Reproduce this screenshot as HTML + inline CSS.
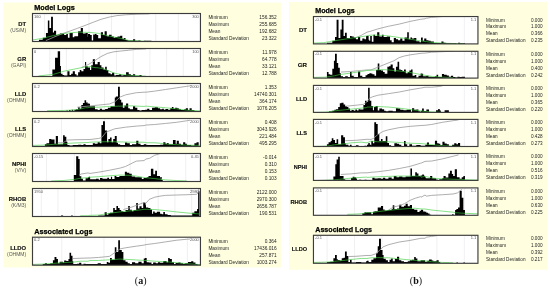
<!DOCTYPE html>
<html><head><meta charset="utf-8"><style>
html,body{margin:0;padding:0;background:#fff;width:550px;height:289px;overflow:hidden}
svg{display:block}
text{font-family:"Liberation Sans",Arial,sans-serif;fill:#111}
.h{font-weight:bold;fill:#000;stroke:#000;stroke-width:0.25px}
.b{font-weight:bold;fill:#111;stroke:#111;stroke-width:0.15px}
.u{fill:#555}
.s{fill:#222}
.m{font-size:4.0px;fill:#555}
.c{font-family:"Liberation Serif",serif;font-size:10px;fill:#111}
</style></head><body>
<svg width="550" height="289" viewBox="0 0 550 289">
<rect x="3.5" y="2.5" width="277.5" height="265" fill="#ffffe0"/>
<text x="34.2" y="10.3" class="h" style="font-size:7.3px">Model Logs</text>
<text x="34.2" y="233.6" class="h" style="font-size:7.3px">Associated Logs</text>
<clipPath id="cLDT"><rect x="32.5" y="13.5" width="167.95" height="28"/></clipPath>
<rect x="32.5" y="13.5" width="167.95" height="28" fill="#fff"/>
<g clip-path="url(#cLDT)">
<line x1="44.5" y1="13.5" x2="44.5" y2="41.5" stroke="#e9e9e9" stroke-width="0.7"/>
<line x1="67" y1="13.5" x2="67" y2="41.5" stroke="#e9e9e9" stroke-width="0.7"/>
<line x1="89" y1="13.5" x2="89" y2="41.5" stroke="#e9e9e9" stroke-width="0.7"/>
<line x1="111.5" y1="13.5" x2="111.5" y2="41.5" stroke="#e9e9e9" stroke-width="0.7"/>
<line x1="134" y1="13.5" x2="134" y2="41.5" stroke="#e9e9e9" stroke-width="0.7"/>
<line x1="155.8" y1="13.5" x2="155.8" y2="41.5" stroke="#e9e9e9" stroke-width="0.7"/>
<line x1="178.3" y1="13.5" x2="178.3" y2="41.5" stroke="#e9e9e9" stroke-width="0.7"/>
<path d="M38.97 41.5V39.67H42.72V41.5ZM42.72 41.5V37.74H45.94V41.5ZM45.94 41.5V32.92H47.87V41.5ZM47.87 41.5V20.58H49.37V41.5ZM49.37 41.5V28.09H51.08V41.5ZM51.08 41.5V16.83H52.91V41.5ZM52.91 41.5V32.38H53.98V41.5ZM53.98 41.5V30.77H56.12V41.5ZM56.12 41.5V35.06H57.73V41.5ZM57.73 41.5V34.53H59.87V41.5ZM59.87 41.5V33.45H64.16V41.5ZM64.16 41.5V35.06H66.31V41.5ZM66.31 41.5V33.99H67.91V41.5ZM67.91 41.5V37.74H69.52V41.5ZM69.52 41.5V32.92H72.74V41.5ZM72.74 41.5V37.21H74.35V41.5ZM74.35 41.5V36.13H78.1V41.5ZM78.1 41.5V31.31H80.78V41.5ZM80.78 41.5V27.88H82.92V41.5ZM82.92 41.5V33.45H85.6V41.5ZM85.6 41.5V32.92H87.75V41.5ZM87.75 41.5V36.67H90V41.5ZM88 41.5V33.99H90.14V41.5ZM90.14 41.5V35.06H91.75V41.5ZM91.75 41.5V40.53H93.15V41.5ZM93.15 41.5V34.53H94.97V41.5ZM94.97 41.5V33.99H96.58V41.5ZM96.58 41.5V35.06H98.18V41.5ZM98.18 41.5V38.28H100.87V41.5ZM100.87 41.5V32.17H103.01V41.5ZM103.01 41.5V35.06H104.62V41.5ZM104.62 41.5V31.31H106.76V41.5ZM106.76 41.5V36.13H108.91V41.5ZM108.91 41.5V34.74H111.59V41.5ZM111.59 41.5V36.46H113.73V41.5ZM113.73 41.5V37.74H115.34V41.5ZM115.34 41.5V36.89H117.48V41.5ZM117.48 41.5V36.46H120.16V41.5ZM120.16 41.5V35.81H122.31V41.5ZM122.31 41.5V38.82H123.91V41.5ZM123.91 41.5V37.96H125.52V41.5ZM125.52 41.5V40.1H127.67V41.5ZM127.67 41.5V40.53H133.03V41.5ZM133.03 41.5V39.35H135.17V41.5ZM135.17 41.5V40.75H138.39V41.5ZM138.39 41.5V40.43H140.53V41.5ZM140.53 41.5V41.07H146V41.5ZM144 41.5V40.75H151.5V41.5Z" fill="#000"/>
<polyline points="45.9,40.6 53,37.5 61.8,33.9 70,31 77.8,28.2 86,25.1 93.7,22.1 101,19.3 109.6,17 117,15.6 125.5,14.8 137,14.2 149.4,13.9" fill="none" stroke="#999" stroke-width="0.8"/>
<polyline points="32,40.1 42.72,38.28 53.44,35.6 64.16,33.45 78.1,32.17 88,32.38 90,32.38 98.72,33.45 109.44,36.13 120.16,38.28 128.74,40.43 136.24,40.96 146,41.18" fill="none" stroke="#3fcf3f" stroke-opacity="0.7" stroke-width="0.9"/>
</g>
<text x="34.1" y="17.6" class="m">160</text>
<text x="198.85" y="17.6" class="m" text-anchor="end">300</text>
<rect x="32.5" y="13.5" width="167.95" height="28" fill="none" stroke="#3c3c3c" stroke-width="1.15"/>
<text x="26.2" y="25.8" class="b" text-anchor="end" style="font-size:5.9px">DT</text>
<text x="26.2" y="32.1" class="u" text-anchor="end" style="font-size:5.0px">(US/M)</text>
<text x="208.4" y="18.8" class="s" style="font-size:4.78px">Minimum</text>
<text x="276.6" y="18.8" class="s" text-anchor="end" style="font-size:4.78px">156.352</text>
<text x="208.4" y="25.8" class="s" style="font-size:4.78px">Maximum</text>
<text x="276.6" y="25.8" class="s" text-anchor="end" style="font-size:4.78px">255.685</text>
<text x="208.4" y="32.8" class="s" style="font-size:4.78px">Mean</text>
<text x="276.6" y="32.8" class="s" text-anchor="end" style="font-size:4.78px">192.682</text>
<text x="208.4" y="39.8" class="s" style="font-size:4.78px">Standard Deviation</text>
<text x="276.6" y="39.8" class="s" text-anchor="end" style="font-size:4.78px">23.322</text>
<clipPath id="cLGR"><rect x="32.5" y="48.5" width="167.95" height="28"/></clipPath>
<rect x="32.5" y="48.5" width="167.95" height="28" fill="#fff"/>
<g clip-path="url(#cLGR)">
<line x1="49.7" y1="48.5" x2="49.7" y2="76.5" stroke="#e9e9e9" stroke-width="0.7"/>
<line x1="66.4" y1="48.5" x2="66.4" y2="76.5" stroke="#e9e9e9" stroke-width="0.7"/>
<line x1="83.1" y1="48.5" x2="83.1" y2="76.5" stroke="#e9e9e9" stroke-width="0.7"/>
<line x1="99.8" y1="48.5" x2="99.8" y2="76.5" stroke="#e9e9e9" stroke-width="0.7"/>
<line x1="116.5" y1="48.5" x2="116.5" y2="76.5" stroke="#e9e9e9" stroke-width="0.7"/>
<line x1="133.2" y1="48.5" x2="133.2" y2="76.5" stroke="#e9e9e9" stroke-width="0.7"/>
<line x1="149.9" y1="48.5" x2="149.9" y2="76.5" stroke="#e9e9e9" stroke-width="0.7"/>
<line x1="166.6" y1="48.5" x2="166.6" y2="76.5" stroke="#e9e9e9" stroke-width="0.7"/>
<line x1="183.3" y1="48.5" x2="183.3" y2="76.5" stroke="#e9e9e9" stroke-width="0.7"/>
<path d="M52.37 76.5V69.53H55.05V76.5ZM55.05 76.5V57.73H56.44V76.5ZM56.44 76.5V57.73H57.73V76.5ZM57.73 76.5V51.29H60.09V76.5ZM60.09 76.5V66.09H60.95V76.5ZM60.95 76.5V73.82H62.55V76.5ZM62.55 76.5V74.89H64.16V76.5ZM64.16 76.5V75.43H67.38V76.5ZM67.38 76.5V71.13H69.52V76.5ZM69.52 76.5V75.1H71.13V76.5ZM71.13 76.5V73.82H72.74V76.5ZM72.74 76.5V71.13H74.88V76.5ZM74.88 76.5V74.35H76.49V76.5ZM76.49 76.5V75.43H78.1V76.5ZM78.1 76.5V72.21H79.71V76.5ZM79.71 76.5V70.06H81.32V76.5ZM81.32 76.5V71.13H83.46V76.5ZM83.46 76.5V68.99H85.07V76.5ZM85.07 76.5V62.02H86.14V76.5ZM86.14 76.5V66.31H87.75V76.5ZM87.75 76.5V67.38H90V76.5ZM88 76.5V68.45H89.61V76.5ZM89.61 76.5V70.06H91.22V76.5ZM91.22 76.5V65.24H92.82V76.5ZM92.82 76.5V59.34H94.97V76.5ZM94.97 76.5V64.16H97.65V76.5ZM97.65 76.5V62.02H99.79V76.5ZM99.79 76.5V65.24H101.4V76.5ZM101.4 76.5V67.38H103.55V76.5ZM103.55 76.5V69.53H105.15V76.5ZM105.15 76.5V66.84H106.76V76.5ZM106.76 76.5V70.06H108.37V76.5ZM108.37 76.5V73.28H110.51V76.5ZM110.51 76.5V74.35H112.12V76.5ZM112.12 76.5V72.74H114.27V76.5ZM114.27 76.5V75.43H115.87V76.5ZM115.87 76.5V75.1H119.09V76.5ZM119.09 76.5V74.35H121.23V76.5ZM121.23 76.5V75.43H123.38V76.5ZM123.38 76.5V75.1H126.06V76.5ZM126.06 76.5V72.21H128.74V76.5ZM128.74 76.5V74.35H130.88V76.5ZM130.88 76.5V75.1H133.03V76.5ZM133.03 76.5V74.35H135.17V76.5ZM135.17 76.5V75.75H139.46V76.5ZM139.46 76.5V74.89H141.6V76.5ZM141.6 76.5V75.96H146V76.5Z" fill="#000"/>
<polyline points="81.57,67.38 88,64.7 94.43,60.94 100.87,56.65 107.3,53.44 113.73,51.83 120.16,51.08 128.74,50.22 136.24,49.36 146,48.93" fill="none" stroke="#999" stroke-width="0.8"/>
<polyline points="38.43,75.96 53.44,74.35 64.16,71.13 74.88,68.99 85.6,66.84 88,66.84 90,66.31 93.36,67.38 98.72,67.92 104.08,68.99 109.44,71.13 114.8,73.28 120.16,74.35 130.88,75.43 146,76.18" fill="none" stroke="#3fcf3f" stroke-opacity="0.7" stroke-width="0.9"/>
</g>
<text x="34.1" y="52.6" class="m">0</text>
<text x="198.85" y="52.6" class="m" text-anchor="end">100</text>
<rect x="32.5" y="48.5" width="167.95" height="28" fill="none" stroke="#3c3c3c" stroke-width="1.15"/>
<text x="26.2" y="60.8" class="b" text-anchor="end" style="font-size:5.9px">GR</text>
<text x="26.2" y="67.1" class="u" text-anchor="end" style="font-size:5.0px">(GAPI)</text>
<text x="208.4" y="53.8" class="s" style="font-size:4.78px">Minimum</text>
<text x="276.6" y="53.8" class="s" text-anchor="end" style="font-size:4.78px">11.978</text>
<text x="208.4" y="60.8" class="s" style="font-size:4.78px">Maximum</text>
<text x="276.6" y="60.8" class="s" text-anchor="end" style="font-size:4.78px">64.778</text>
<text x="208.4" y="67.8" class="s" style="font-size:4.78px">Mean</text>
<text x="276.6" y="67.8" class="s" text-anchor="end" style="font-size:4.78px">33.121</text>
<text x="208.4" y="74.8" class="s" style="font-size:4.78px">Standard Deviation</text>
<text x="276.6" y="74.8" class="s" text-anchor="end" style="font-size:4.78px">12.788</text>
<clipPath id="cLLLD"><rect x="32.5" y="83.5" width="167.95" height="28"/></clipPath>
<rect x="32.5" y="83.5" width="167.95" height="28" fill="#fff"/>
<g clip-path="url(#cLLLD)">
<line x1="62" y1="83.5" x2="62" y2="111.5" stroke="#e9e9e9" stroke-width="0.7"/>
<line x1="104.5" y1="83.5" x2="104.5" y2="111.5" stroke="#e9e9e9" stroke-width="0.7"/>
<line x1="146" y1="83.5" x2="146" y2="111.5" stroke="#e9e9e9" stroke-width="0.7"/>
<line x1="187.5" y1="83.5" x2="187.5" y2="111.5" stroke="#e9e9e9" stroke-width="0.7"/>
<path d="M66.31 111.5V110.43H67.91V111.5ZM68.99 111.5V110.1H70.6V111.5ZM71.67 111.5V109.67H73.28V111.5ZM74.35 111.5V109.67H75.96V111.5ZM75.96 111.5V109.35H78.1V111.5ZM78.1 111.5V107.21H79.71V111.5ZM79.71 111.5V108.82H81.32V111.5ZM81.32 111.5V105.06H82.92V111.5ZM82.92 111.5V102.92H84.53V111.5ZM84.53 111.5V100.24H86.14V111.5ZM86.14 111.5V102.38H87.75V111.5ZM87.75 111.5V103.99H90V111.5ZM88 111.5V103.45H89.61V111.5ZM89.61 111.5V106.13H92.29V111.5ZM92.29 111.5V106.13H94.97V111.5ZM94.97 111.5V109.35H97.65V111.5ZM97.65 111.5V110.1H99.79V111.5ZM99.79 111.5V108.82H101.94V111.5ZM101.94 111.5V109.67H105.15V111.5ZM105.15 111.5V109.03H107.83V111.5ZM107.83 111.5V107.74H110.51V111.5ZM110.51 111.5V106.13H114.8V111.5ZM114.8 111.5V97.55H115.87V111.5ZM115.87 111.5V96.48H118.02V111.5ZM118.02 111.5V86.83H119.84V111.5ZM119.84 111.5V99.7H121.23V111.5ZM121.23 111.5V102.38H122.84V111.5ZM122.84 111.5V107.74H124.45V111.5ZM124.45 111.5V105.6H126.06V111.5ZM126.06 111.5V103.45H128.2V111.5ZM128.2 111.5V108.28H129.81V111.5ZM129.81 111.5V109.35H133.03V111.5ZM133.03 111.5V106.13H135.17V111.5ZM135.17 111.5V107.74H137.32V111.5ZM137.32 111.5V109.89H139.46V111.5ZM139.46 111.5V110.43H141.6V111.5ZM141.6 111.5V110.1H146V111.5ZM144 111.5V110.1H145.07V111.5ZM145.07 111.5V109.67H147.22V111.5ZM147.22 111.5V108.82H149.36V111.5ZM149.36 111.5V110.1H152.04V111.5ZM152.04 111.5V107.74H154.72V111.5ZM154.72 111.5V107.21H157.94V111.5ZM157.94 111.5V108.28H160.08V111.5ZM160.08 111.5V109.35H162.23V111.5ZM162.23 111.5V108.82H163.83V111.5ZM163.83 111.5V109.67H165.44V111.5ZM165.44 111.5V109.03H168.12V111.5ZM168.12 111.5V109.67H170.27V111.5ZM170.27 111.5V108.28H171.87V111.5ZM171.87 111.5V106.89H173.48V111.5ZM173.48 111.5V108.82H175.09V111.5ZM175.09 111.5V107.74H177.23V111.5ZM177.23 111.5V108.28H178.84V111.5ZM178.84 111.5V109.35H180.99V111.5ZM180.99 111.5V110.1H184.2V111.5ZM184.2 111.5V109.35H185.81V111.5ZM185.81 111.5V108.28H187.96V111.5ZM187.96 111.5V110.1H189.56V111.5ZM189.56 111.5V108.28H191.71V111.5ZM191.71 111.5V110.1H194.39V111.5ZM194.39 111.5V110.96H202V111.5Z" fill="#000"/>
<polyline points="77.28,107.21 88,106.13 98.72,105.06 109.44,103.99 114.8,101.84 120.16,97.02 125.52,94.87 130.88,93.8 136.24,92.73 144,92.19 146,92.19 154.72,91.12 165.44,89.51 176.16,87.9 186.88,86.29 191.17,85.75" fill="none" stroke="#999" stroke-width="0.8"/>
<polyline points="47.01,110.75 64.16,110.43 74.88,109.89 81.32,108.82 85.6,107.74 88,107.74 90,107.21 98.72,107.21 109.44,106.46 120.16,106.13 130.88,105.81 144,106.46 146,106.13 154.72,106.89 165.44,107.74 176.16,108.82 186.88,110.1 197.6,110.75 202,110.96" fill="none" stroke="#3fcf3f" stroke-opacity="0.7" stroke-width="0.9"/>
</g>
<text x="34.1" y="87.6" class="m">0.2</text>
<text x="198.85" y="87.6" class="m" text-anchor="end">2000</text>
<rect x="32.5" y="83.5" width="167.95" height="28" fill="none" stroke="#3c3c3c" stroke-width="1.15"/>
<text x="26.2" y="95.8" class="b" text-anchor="end" style="font-size:5.9px">LLD</text>
<text x="26.2" y="102.1" class="u" text-anchor="end" style="font-size:5.0px">(OHMM)</text>
<text x="208.4" y="88.8" class="s" style="font-size:4.78px">Minimum</text>
<text x="276.6" y="88.8" class="s" text-anchor="end" style="font-size:4.78px">1.353</text>
<text x="208.4" y="95.8" class="s" style="font-size:4.78px">Maximum</text>
<text x="276.6" y="95.8" class="s" text-anchor="end" style="font-size:4.78px">14740.301</text>
<text x="208.4" y="102.8" class="s" style="font-size:4.78px">Mean</text>
<text x="276.6" y="102.8" class="s" text-anchor="end" style="font-size:4.78px">364.174</text>
<text x="208.4" y="109.8" class="s" style="font-size:4.78px">Standard Deviation</text>
<text x="276.6" y="109.8" class="s" text-anchor="end" style="font-size:4.78px">1076.205</text>
<clipPath id="cLLLS"><rect x="32.5" y="118.5" width="167.95" height="28"/></clipPath>
<rect x="32.5" y="118.5" width="167.95" height="28" fill="#fff"/>
<g clip-path="url(#cLLLS)">
<line x1="61.5" y1="118.5" x2="61.5" y2="146.5" stroke="#e9e9e9" stroke-width="0.7"/>
<line x1="104.5" y1="118.5" x2="104.5" y2="146.5" stroke="#e9e9e9" stroke-width="0.7"/>
<line x1="146" y1="118.5" x2="146" y2="146.5" stroke="#e9e9e9" stroke-width="0.7"/>
<line x1="187.5" y1="118.5" x2="187.5" y2="146.5" stroke="#e9e9e9" stroke-width="0.7"/>
<path d="M44.87 146.5V144.35H46.47V146.5ZM46.47 146.5V143.28H49.15V146.5ZM49.15 146.5V138.99H51.3V146.5ZM51.3 146.5V139.53H54.51V146.5ZM54.51 146.5V143.82H55.8V146.5ZM55.8 146.5V136.09H57.94V146.5ZM57.94 146.5V144.35H63.09V146.5ZM63.09 146.5V135.24H64.7V146.5ZM64.7 146.5V136.84H66.31V146.5ZM66.31 146.5V141.67H67.38V146.5ZM67.38 146.5V145.1H69.52V146.5ZM69.52 146.5V145.43H72.74V146.5ZM72.74 146.5V145.1H74.88V146.5ZM74.88 146.5V145.1H78.1V146.5ZM78.1 146.5V144.67H81.32V146.5ZM81.32 146.5V145.1H83.46V146.5ZM83.46 146.5V144.35H85.6V146.5ZM85.6 146.5V145.1H90V146.5ZM88 146.5V145.1H92.82V146.5ZM92.82 146.5V143.28H94.97V146.5ZM94.97 146.5V143.82H97.65V146.5ZM97.65 146.5V142.21H99.79V146.5ZM99.79 146.5V143.28H101.4V146.5ZM101.4 146.5V125.04H103.01V146.5ZM103.01 146.5V121.29H104.94V146.5ZM104.94 146.5V130.41H107.08V146.5ZM107.08 146.5V142.21H108.37V146.5ZM108.37 146.5V138.99H109.98V146.5ZM109.98 146.5V137.38H111.59V146.5ZM111.59 146.5V142.21H113.19V146.5ZM113.19 146.5V138.99H114.8V146.5ZM114.8 146.5V136.09H116.73V146.5ZM116.73 146.5V142.74H118.02V146.5ZM118.02 146.5V144.35H120.16V146.5ZM120.16 146.5V145.1H124.99V146.5ZM124.99 146.5V142.53H127.13V146.5ZM127.13 146.5V143.28H129.81V146.5ZM129.81 146.5V145.1H131.96V146.5ZM131.96 146.5V144.35H136.24V146.5ZM136.24 146.5V140.81H138.39V146.5ZM138.39 146.5V143.82H140.53V146.5ZM140.53 146.5V145.1H143.75V146.5ZM143.75 146.5V144.35H146V146.5ZM144 146.5V145.1H145.07V146.5ZM145.07 146.5V144.67H147.22V146.5ZM147.22 146.5V145.1H152.58V146.5ZM152.58 146.5V144.89H157.94V146.5ZM157.94 146.5V145.1H160.08V146.5ZM160.08 146.5V144.67H163.3V146.5ZM163.3 146.5V142.21H165.44V146.5ZM165.44 146.5V143.82H167.05V146.5ZM167.05 146.5V142.96H168.66V146.5ZM168.66 146.5V144.35H172.95V146.5ZM172.95 146.5V140.06H175.63V146.5ZM175.63 146.5V143.82H176.7V146.5ZM176.7 146.5V140.81H178.84V146.5ZM178.84 146.5V143.82H180.99V146.5ZM180.99 146.5V144.67H183.13V146.5ZM183.13 146.5V142.21H185.28V146.5ZM185.28 146.5V143.82H186.88V146.5ZM186.88 146.5V145.1H191.17V146.5ZM191.17 146.5V145.43H194.39V146.5ZM194.39 146.5V143.28H196.53V146.5ZM196.53 146.5V142.21H198.68V146.5Z" fill="#000"/>
<polyline points="57.73,142.74 63.09,142.74 67.38,140.06 74.88,139.74 88,139.53 90,139.53 98.72,138.45 101.94,137.38 106.23,132.02 114.8,128.8 125.52,127.19 136.24,126.12 144,125.58 146,125.04 154.72,124.51 165.44,123.44 176.16,122.36 186.88,120.75 190.1,120.22" fill="none" stroke="#999" stroke-width="0.8"/>
<polyline points="32,145.43 44.87,145.1 53.44,144.35 64.16,143.82 69.52,143.28 74.88,142.96 88,142.53 90,142.21 98.72,141.89 109.44,141.67 120.16,141.89 130.88,142.21 144,142.21 146,142.74 154.72,142.74 160.08,143.28 165.44,144.03 176.16,144.67 186.88,145.1 202,145.43" fill="none" stroke="#3fcf3f" stroke-opacity="0.7" stroke-width="0.9"/>
</g>
<text x="34.1" y="122.6" class="m">0.2</text>
<text x="198.85" y="122.6" class="m" text-anchor="end">2000</text>
<rect x="32.5" y="118.5" width="167.95" height="28" fill="none" stroke="#3c3c3c" stroke-width="1.15"/>
<text x="26.2" y="130.8" class="b" text-anchor="end" style="font-size:5.9px">LLS</text>
<text x="26.2" y="137.1" class="u" text-anchor="end" style="font-size:5.0px">(OHMM)</text>
<text x="208.4" y="123.8" class="s" style="font-size:4.78px">Minimum</text>
<text x="276.6" y="123.8" class="s" text-anchor="end" style="font-size:4.78px">0.408</text>
<text x="208.4" y="130.8" class="s" style="font-size:4.78px">Maximum</text>
<text x="276.6" y="130.8" class="s" text-anchor="end" style="font-size:4.78px">3043.926</text>
<text x="208.4" y="137.8" class="s" style="font-size:4.78px">Mean</text>
<text x="276.6" y="137.8" class="s" text-anchor="end" style="font-size:4.78px">221.484</text>
<text x="208.4" y="144.8" class="s" style="font-size:4.78px">Standard Deviation</text>
<text x="276.6" y="144.8" class="s" text-anchor="end" style="font-size:4.78px">495.295</text>
<clipPath id="cLNPHI"><rect x="32.5" y="153.5" width="167.95" height="28"/></clipPath>
<rect x="32.5" y="153.5" width="167.95" height="28" fill="#fff"/>
<g clip-path="url(#cLNPHI)">
<line x1="46.5" y1="153.5" x2="46.5" y2="181.5" stroke="#e9e9e9" stroke-width="0.7"/>
<line x1="74.3" y1="153.5" x2="74.3" y2="181.5" stroke="#e9e9e9" stroke-width="0.7"/>
<line x1="102.2" y1="153.5" x2="102.2" y2="181.5" stroke="#e9e9e9" stroke-width="0.7"/>
<line x1="130.1" y1="153.5" x2="130.1" y2="181.5" stroke="#e9e9e9" stroke-width="0.7"/>
<line x1="158" y1="153.5" x2="158" y2="181.5" stroke="#e9e9e9" stroke-width="0.7"/>
<line x1="185.8" y1="153.5" x2="185.8" y2="181.5" stroke="#e9e9e9" stroke-width="0.7"/>
<path d="M73.81 181.5V175.06H76.17V181.5ZM76.17 181.5V156.29H78.31V181.5ZM78.31 181.5V158.97H79.71V181.5ZM79.71 181.5V176.13H81.32V181.5ZM81.32 181.5V178.82H82.92V181.5ZM82.92 181.5V180.43H85.6V181.5ZM85.6 181.5V178.28H87.21V181.5ZM87.21 181.5V178.28H88.82V181.5ZM88 181.5V177.21H90.14V181.5ZM88.82 181.5V176.67H90V181.5ZM90.14 181.5V179.35H96.04V181.5ZM96.04 181.5V178.82H98.72V181.5ZM98.72 181.5V179.67H100V181.5ZM100 181.5V178.1H102.42V181.5ZM102.42 181.5V178.82H107.27V181.5ZM107.27 181.5V177.85H109.09V181.5ZM109.09 181.5V179.07H110.91V181.5ZM110.91 181.5V176.64H112.12V181.5ZM112.12 181.5V179.07H114.55V181.5ZM114.55 181.5V176.04H116.36V181.5ZM116.36 181.5V176.89H119.39V181.5ZM119.39 181.5V176.04H124.85V181.5ZM124.85 181.5V171.8H126.91V181.5ZM126.91 181.5V172.77H129.33V181.5ZM129.33 181.5V173.86H131.76V181.5ZM131.76 181.5V176.4H135.15V181.5ZM135.15 181.5V177.25H141.82V181.5ZM141.82 181.5V179.07H143.64V181.5ZM143.64 181.5V178.1H146.67V181.5ZM146.67 181.5V177.25H148.48V181.5ZM148.48 181.5V176.04H150.91V181.5ZM150.91 181.5V168.77H153.33V181.5ZM153.33 181.5V174.22H155.15V181.5ZM155.15 181.5V170.83H156.97V181.5ZM156.97 181.5V176.04H160V181.5ZM160 181.5V178.6H160.3V181.5ZM160.3 181.5V176.89H161.69V181.5ZM161.69 181.5V180.1H162.76V181.5Z" fill="#000"/>
<polyline points="79.17,175.06 81.32,173.99 88,172.92 90,173.45 98.72,172.17 109.44,170.24 120.16,168.09 125.52,166.48 130.88,163.8 136.24,161.12 144,160.58 146,158.97 149.36,158.44 154.72,155.22 160.08,153.61" fill="none" stroke="#999" stroke-width="0.8"/>
<polyline points="51.3,180.96 64.16,180.43 74.88,179.35 80.24,178.28 88,177.53 90,177.21 98.72,176.67 109.44,175.81 120.16,175.06 130.88,175.38 136.24,176.13 144,177.53 146,177.74 154.72,178.6 165.44,179.89 176.16,180.53 186.88,180.96" fill="none" stroke="#3fcf3f" stroke-opacity="0.7" stroke-width="0.9"/>
</g>
<text x="34.1" y="157.6" class="m">-0.15</text>
<text x="198.85" y="157.6" class="m" text-anchor="end">0.45</text>
<rect x="32.5" y="153.5" width="167.95" height="28" fill="none" stroke="#3c3c3c" stroke-width="1.15"/>
<text x="26.2" y="165.8" class="b" text-anchor="end" style="font-size:5.9px">NPHI</text>
<text x="26.2" y="172.1" class="u" text-anchor="end" style="font-size:5.0px">(V/V)</text>
<text x="208.4" y="158.8" class="s" style="font-size:4.78px">Minimum</text>
<text x="276.6" y="158.8" class="s" text-anchor="end" style="font-size:4.78px">-0.014</text>
<text x="208.4" y="165.8" class="s" style="font-size:4.78px">Maximum</text>
<text x="276.6" y="165.8" class="s" text-anchor="end" style="font-size:4.78px">0.310</text>
<text x="208.4" y="172.8" class="s" style="font-size:4.78px">Mean</text>
<text x="276.6" y="172.8" class="s" text-anchor="end" style="font-size:4.78px">0.153</text>
<text x="208.4" y="179.8" class="s" style="font-size:4.78px">Standard Deviation</text>
<text x="276.6" y="179.8" class="s" text-anchor="end" style="font-size:4.78px">0.103</text>
<clipPath id="cLRHOB"><rect x="32.5" y="188.5" width="167.95" height="28"/></clipPath>
<rect x="32.5" y="188.5" width="167.95" height="28" fill="#fff"/>
<g clip-path="url(#cLRHOB)">
<line x1="41.3" y1="188.5" x2="41.3" y2="216.5" stroke="#e9e9e9" stroke-width="0.7"/>
<line x1="58" y1="188.5" x2="58" y2="216.5" stroke="#e9e9e9" stroke-width="0.7"/>
<line x1="74.7" y1="188.5" x2="74.7" y2="216.5" stroke="#e9e9e9" stroke-width="0.7"/>
<line x1="91.4" y1="188.5" x2="91.4" y2="216.5" stroke="#e9e9e9" stroke-width="0.7"/>
<line x1="108.1" y1="188.5" x2="108.1" y2="216.5" stroke="#e9e9e9" stroke-width="0.7"/>
<line x1="124.8" y1="188.5" x2="124.8" y2="216.5" stroke="#e9e9e9" stroke-width="0.7"/>
<line x1="141.5" y1="188.5" x2="141.5" y2="216.5" stroke="#e9e9e9" stroke-width="0.7"/>
<line x1="158.2" y1="188.5" x2="158.2" y2="216.5" stroke="#e9e9e9" stroke-width="0.7"/>
<line x1="174.9" y1="188.5" x2="174.9" y2="216.5" stroke="#e9e9e9" stroke-width="0.7"/>
<line x1="191.6" y1="188.5" x2="191.6" y2="216.5" stroke="#e9e9e9" stroke-width="0.7"/>
<path d="M60.95 216.5V215.43H63.09V216.5ZM71.13 216.5V215.43H72.74V216.5ZM98.18 216.5V215.43H104.62V216.5ZM104.62 216.5V212.21H106.76V216.5ZM106.76 216.5V214.67H108.37V216.5ZM108.37 216.5V213.28H109.98V216.5ZM109.98 216.5V212.74H113.19V216.5ZM113.19 216.5V207.92H114.8V216.5ZM114.8 216.5V210.06H116.41V216.5ZM116.41 216.5V206.09H118.02V216.5ZM118.02 216.5V207.92H119.63V216.5ZM119.63 216.5V210.06H121.23V216.5ZM121.23 216.5V211.13H123.38V216.5ZM123.38 216.5V211.89H125.52V216.5ZM125.52 216.5V210.06H128.2V216.5ZM128.2 216.5V206.09H129.81V216.5ZM129.81 216.5V209.74H131.96V216.5ZM131.96 216.5V211.13H133.56V216.5ZM133.56 216.5V210.06H136.24V216.5ZM136.24 216.5V203.09H137.85V216.5ZM137.85 216.5V208.45H139.46V216.5ZM139.46 216.5V206.31H141.6V216.5ZM141.6 216.5V207.92H143.21V216.5ZM143.21 216.5V202.55H144.82V216.5ZM144 216.5V203.09H145.61V216.5ZM144.82 216.5V205.24H146V216.5ZM145.61 216.5V207.38H148.29V216.5ZM148.29 216.5V207.92H150.43V216.5ZM150.43 216.5V209.53H152.04V216.5ZM152.04 216.5V213.82H153.11V216.5ZM153.11 216.5V211.46H154.72V216.5ZM154.72 216.5V212.74H156.87V216.5ZM156.87 216.5V211.67H160.08V216.5ZM160.08 216.5V213.82H161.69V216.5ZM161.69 216.5V214.35H163.3V216.5ZM163.3 216.5V211.89H164.91V216.5ZM164.91 216.5V214.35H167.59V216.5ZM167.59 216.5V215.1H170.8V216.5ZM170.8 216.5V215.53H192.24V216.5ZM192.24 216.5V212.74H194.39V216.5ZM194.39 216.5V211.13H197.07V216.5ZM197.07 216.5V208.99H198.14V216.5ZM198.14 216.5V191.29H199.53V216.5Z" fill="#000"/>
<polyline points="123.38,209.53 130.88,207.38 144,202.55 146,203.09 149.36,199.34 154.72,197.19 160.08,196.12 165.44,195.37 176.16,195.04 186.88,194.72 196.53,194.29 198.14,192.9 198.68,189.15" fill="none" stroke="#999" stroke-width="0.8"/>
<polyline points="80.24,215.75 88,215.75 90,215.32 98.72,215.1 109.44,213.28 120.16,211.89 130.88,210.81 141.6,209.74 144,209.31 146,209.31 154.72,209.53 165.44,210.6 176.16,211.89 186.88,212.96 197.6,213.82 199.75,214.03" fill="none" stroke="#3fcf3f" stroke-opacity="0.7" stroke-width="0.9"/>
</g>
<text x="34.1" y="192.6" class="m">1950</text>
<text x="198.85" y="192.6" class="m" text-anchor="end">2980</text>
<rect x="32.5" y="188.5" width="167.95" height="28" fill="none" stroke="#3c3c3c" stroke-width="1.15"/>
<text x="26.2" y="200.8" class="b" text-anchor="end" style="font-size:5.9px">RHOB</text>
<text x="26.2" y="207.1" class="u" text-anchor="end" style="font-size:5.0px">(K/M3)</text>
<text x="208.4" y="193.8" class="s" style="font-size:4.78px">Minimum</text>
<text x="276.6" y="193.8" class="s" text-anchor="end" style="font-size:4.78px">2122.000</text>
<text x="208.4" y="200.8" class="s" style="font-size:4.78px">Maximum</text>
<text x="276.6" y="200.8" class="s" text-anchor="end" style="font-size:4.78px">2970.300</text>
<text x="208.4" y="207.8" class="s" style="font-size:4.78px">Mean</text>
<text x="276.6" y="207.8" class="s" text-anchor="end" style="font-size:4.78px">2656.787</text>
<text x="208.4" y="214.8" class="s" style="font-size:4.78px">Standard Deviation</text>
<text x="276.6" y="214.8" class="s" text-anchor="end" style="font-size:4.78px">190.531</text>
<clipPath id="cLLLDO"><rect x="32.5" y="237.2" width="167.95" height="28"/></clipPath>
<rect x="32.5" y="237.2" width="167.95" height="28" fill="#fff"/>
<g clip-path="url(#cLLLDO)">
<line x1="61.8" y1="237.2" x2="61.8" y2="265.2" stroke="#e9e9e9" stroke-width="0.7"/>
<line x1="104" y1="237.2" x2="104" y2="265.2" stroke="#e9e9e9" stroke-width="0.7"/>
<line x1="145.6" y1="237.2" x2="145.6" y2="265.2" stroke="#e9e9e9" stroke-width="0.7"/>
<line x1="187.4" y1="237.2" x2="187.4" y2="265.2" stroke="#e9e9e9" stroke-width="0.7"/>
<path d="M42.72 265.2V264.1H44.87V265.2ZM44.87 265.2V263.35H47.01V265.2ZM47.01 265.2V264.1H50.23V265.2ZM50.23 265.2V263.35H52.91V265.2ZM52.91 265.2V260.13H54.51V265.2ZM54.51 265.2V256.92H56.44V265.2ZM56.44 265.2V259.06H57.94V265.2ZM57.94 265.2V263.35H59.66V265.2ZM59.66 265.2V261.74H63.09V265.2ZM63.09 265.2V262.6H64.16V265.2ZM64.16 265.2V260.46H66.31V265.2ZM66.31 265.2V260.89H68.45V265.2ZM68.45 265.2V259.06H69.52V265.2ZM69.52 265.2V252.63H71.13V265.2ZM71.13 265.2V255.84H72.52V265.2ZM72.52 265.2V261.21H73.28V265.2ZM73.28 265.2V264.1H77.03V265.2ZM77.03 265.2V263.67H79.17V265.2ZM79.17 265.2V262.82H81.32V265.2ZM81.32 265.2V264.43H83.46V265.2ZM83.46 265.2V263.67H85.6V265.2ZM85.6 265.2V264.1H90V265.2ZM88 265.2V264.1H97.65V265.2ZM97.65 265.2V263.35H100.87V265.2ZM100.87 265.2V264.1H106.76V265.2ZM106.76 265.2V261.96H108.37V265.2ZM108.37 265.2V262.82H109.98V265.2ZM109.98 265.2V257.99H111.8V265.2ZM111.8 265.2V259.81H114.8V265.2ZM114.8 265.2V247.26H116.41V265.2ZM116.41 265.2V252.09H118.23V265.2ZM118.23 265.2V240.29H119.95V265.2ZM119.95 265.2V249.94H121.77V265.2ZM121.77 265.2V252.09H123.38V265.2ZM123.38 265.2V260.13H125.52V265.2ZM125.52 265.2V261.74H127.67V265.2ZM127.67 265.2V263.35H129.81V265.2ZM129.81 265.2V264.1H131.96V265.2ZM131.96 265.2V262.28H135.17V265.2ZM135.17 265.2V263.35H138.39V265.2ZM138.39 265.2V261.74H141.6V265.2ZM141.6 265.2V263.35H143.75V265.2ZM143.75 265.2V258.53H146V265.2ZM144 265.2V258.53H145.07V265.2ZM145.07 265.2V257.99H146.68V265.2ZM146.68 265.2V262.28H148.82V265.2ZM148.82 265.2V262.6H151.5V265.2ZM151.5 265.2V264.1H153.11V265.2ZM153.11 265.2V262.6H155.79V265.2ZM155.79 265.2V263.35H157.94V265.2ZM157.94 265.2V262.28H160.08V265.2ZM160.08 265.2V262.82H163.3V265.2ZM163.3 265.2V260.89H166.51V265.2ZM166.51 265.2V262.28H168.12V265.2ZM168.12 265.2V257.99H169.73V265.2ZM169.73 265.2V259.06H171.87V265.2ZM171.87 265.2V262.28H174.02V265.2ZM174.02 265.2V264.1H175.63V265.2ZM175.63 265.2V263.03H178.31V265.2ZM178.31 265.2V262.6H180.45V265.2ZM180.45 265.2V263.35H183.13V265.2ZM183.13 265.2V264.1H184.74V265.2ZM184.74 265.2V263.35H187.96V265.2ZM187.96 265.2V261.96H191.17V265.2ZM191.17 265.2V261.21H193.32V265.2ZM193.32 265.2V262.6H195.46V265.2ZM195.46 265.2V264.1H197.6V265.2ZM197.6 265.2V264.75H202V265.2Z" fill="#000"/>
<polyline points="72.74,258.53 88,257.99 90,257.99 98.72,257.45 109.44,256.38 114.8,252.63 120.16,248.87 125.52,247.8 136.24,246.19 144,245.12 146,244.58 154.72,243.51 165.44,241.9 176.16,240.29 186.88,239.22 190.1,239" fill="none" stroke="#999" stroke-width="0.8"/>
<polyline points="32,264.43 42.72,264.1 53.44,263.35 64.16,262.6 74.88,261.96 80.24,261.21 88,261.21 90,260.46 98.72,260.46 109.44,259.81 120.16,259.06 130.88,259.6 144,260.46 146,260.46 154.72,261.21 165.44,261.74 176.16,262.6 186.88,263.67 197.6,264.43 202,264.75" fill="none" stroke="#3fcf3f" stroke-opacity="0.7" stroke-width="0.9"/>
</g>
<text x="34.1" y="241.3" class="m">0.2</text>
<text x="198.85" y="241.3" class="m" text-anchor="end">2000</text>
<rect x="32.5" y="237.2" width="167.95" height="28" fill="none" stroke="#3c3c3c" stroke-width="1.15"/>
<text x="26.2" y="249.5" class="b" text-anchor="end" style="font-size:5.9px">LLDO</text>
<text x="26.2" y="255.8" class="u" text-anchor="end" style="font-size:5.0px">(OHMM)</text>
<text x="208.4" y="242.5" class="s" style="font-size:4.78px">Minimum</text>
<text x="276.6" y="242.5" class="s" text-anchor="end" style="font-size:4.78px">0.364</text>
<text x="208.4" y="249.5" class="s" style="font-size:4.78px">Maximum</text>
<text x="276.6" y="249.5" class="s" text-anchor="end" style="font-size:4.78px">17436.016</text>
<text x="208.4" y="256.5" class="s" style="font-size:4.78px">Mean</text>
<text x="276.6" y="256.5" class="s" text-anchor="end" style="font-size:4.78px">257.871</text>
<text x="208.4" y="263.5" class="s" style="font-size:4.78px">Standard Deviation</text>
<text x="276.6" y="263.5" class="s" text-anchor="end" style="font-size:4.78px">1003.274</text>
<rect x="289" y="2" width="258.5" height="267.8" fill="#ffffe0"/>
<text x="315.3" y="13.3" class="h" style="font-size:7.1px">Model Logs</text>
<text x="315.3" y="232.4" class="h" style="font-size:7.1px">Associated Logs</text>
<clipPath id="cRDT"><rect x="313.45" y="16.54" width="164.5" height="27.36"/></clipPath>
<rect x="313.45" y="16.54" width="164.5" height="27.36" fill="#fff"/>
<g clip-path="url(#cRDT)">
<line x1="327.1" y1="16.54" x2="327.1" y2="43.9" stroke="#e9e9e9" stroke-width="0.7"/>
<line x1="354.55" y1="16.54" x2="354.55" y2="43.9" stroke="#e9e9e9" stroke-width="0.7"/>
<line x1="382" y1="16.54" x2="382" y2="43.9" stroke="#e9e9e9" stroke-width="0.7"/>
<line x1="409.45" y1="16.54" x2="409.45" y2="43.9" stroke="#e9e9e9" stroke-width="0.7"/>
<line x1="436.9" y1="16.54" x2="436.9" y2="43.9" stroke="#e9e9e9" stroke-width="0.7"/>
<line x1="464.35" y1="16.54" x2="464.35" y2="43.9" stroke="#e9e9e9" stroke-width="0.7"/>
<path d="M326.94 43.9V42.67H332.3V43.9ZM332.3 43.9V40.74H334.98V43.9ZM334.98 43.9V36.99H336.59V43.9ZM336.59 43.9V19.83H338.52V43.9ZM338.52 43.9V38.06H340.34V43.9ZM340.34 43.9V29.48H341.73V43.9ZM341.73 43.9V19.83H343.55V43.9ZM343.55 43.9V35.92H344.95V43.9ZM344.95 43.9V32.7H346.77V43.9ZM346.77 43.9V38.06H349.99V43.9ZM349.99 43.9V35.92H351.6V43.9ZM351.6 43.9V36.45H353.74V43.9ZM353.74 43.9V37.53H355.88V43.9ZM355.88 43.9V39.13H358.03V43.9ZM358.03 43.9V36.99H360.17V43.9ZM360.17 43.9V40.74H362.32V43.9ZM362.32 43.9V38.38H364.46V43.9ZM364.46 43.9V39.13H366.07V43.9ZM366.07 43.9V35.92H367.68V43.9ZM367 43.9V35.92H368.61V43.9ZM367.68 43.9V39.67H369.28V43.9ZM368.61 43.9V40.74H370.22V43.9ZM369.28 43.9V41.28H371V43.9ZM370.22 43.9V35.92H371.82V43.9ZM371.82 43.9V41.82H373.43V43.9ZM373.43 43.9V34.84H375.04V43.9ZM375.04 43.9V35.92H377.18V43.9ZM377.18 43.9V32.16H379.33V43.9ZM379.33 43.9V36.45H382.01V43.9ZM382.01 43.9V34.84H383.62V43.9ZM383.62 43.9V36.99H386.83V43.9ZM386.83 43.9V36.45H390.05V43.9ZM390.05 43.9V40.21H391.66V43.9ZM391.66 43.9V42.35H393.8V43.9ZM393.8 43.9V38.06H395.95V43.9ZM395.95 43.9V39.13H398.09V43.9ZM398.09 43.9V40.21H400.23V43.9ZM400.23 43.9V38.6H402.38V43.9ZM402.38 43.9V40.74H404.52V43.9ZM404.52 43.9V37.53H407.2V43.9ZM407.2 43.9V32.16H408.81V43.9ZM408.81 43.9V39.13H410.42V43.9ZM410.42 43.9V37.53H412.03V43.9ZM412.03 43.9V38.6H414.17V43.9ZM414.17 43.9V38.06H416.32V43.9ZM416.32 43.9V41.28H419.53V43.9ZM419.53 43.9V42.35H421.14V43.9ZM421 43.9V38.06H422.61V43.9ZM421.14 43.9V37.53H422.75V43.9ZM422.61 43.9V40.74H424.22V43.9ZM422.75 43.9V40.74H425V43.9ZM424.22 43.9V38.38H426.36V43.9ZM426.36 43.9V40.21H428.5V43.9ZM428.5 43.9V40.74H430.65V43.9ZM430.65 43.9V41.6H433.87V43.9ZM433.87 43.9V42.89H441.37V43.9ZM441.37 43.9V41.6H443.51V43.9ZM443.51 43.9V42.67H445.66V43.9ZM445.66 43.9V43.32H456.38V43.9ZM457.99 43.9V42.67H460.13V43.9ZM460.13 43.9V43.32H464.96V43.9Z" fill="#000"/>
<polyline points="354.81,38.06 361.24,35.38 367,32.16 371,31.09 377.72,28.94 388.44,26.26 399.16,24.12 409.88,21.44 420.6,19.29 421,19.29 425,18.75 426.36,18.22 431.72,17.36 437.08,16.93 442.44,16.5" fill="none" stroke="#999" stroke-width="0.8"/>
<polyline points="313,43.1 323.72,42.67 334.44,40.74 345.16,39.13 355.88,37.53 366.6,35.92 367,35.6 371,35.17 377.72,35.17 388.44,35.92 399.16,37.53 409.88,39.13 420.6,40.96 421,40.74 425,41.6 426.36,41.6 431.72,42.35 442.44,43.1 453.16,43.53 463.88,43.75" fill="none" stroke="#3fcf3f" stroke-opacity="0.7" stroke-width="0.9"/>
</g>
<text x="315.05" y="20.64" class="m">-0.1</text>
<text x="476.35" y="20.64" class="m" text-anchor="end">1.1</text>
<rect x="313.45" y="16.54" width="164.5" height="27.36" fill="none" stroke="#3c3c3c" stroke-width="1.15"/>
<text x="307.1" y="32.44" class="b" text-anchor="end" textLength="8.2" lengthAdjust="spacingAndGlyphs" style="font-size:6.1px">DT</text>
<text x="486" y="21.5" class="s" style="font-size:4.65px">Minimum</text>
<text x="542.6" y="21.5" class="s" text-anchor="end" style="font-size:4.65px">0.000</text>
<text x="486" y="28.4" class="s" style="font-size:4.65px">Maximum</text>
<text x="542.6" y="28.4" class="s" text-anchor="end" style="font-size:4.65px">1.000</text>
<text x="486" y="35.3" class="s" style="font-size:4.65px">Mean</text>
<text x="542.6" y="35.3" class="s" text-anchor="end" style="font-size:4.65px">0.366</text>
<text x="486" y="42.2" class="s" style="font-size:4.65px">Standard Deviation</text>
<text x="542.6" y="42.2" class="s" text-anchor="end" style="font-size:4.65px">0.235</text>
<clipPath id="cRGR"><rect x="313.45" y="51.3" width="164.5" height="26.8"/></clipPath>
<rect x="313.45" y="51.3" width="164.5" height="26.8" fill="#fff"/>
<g clip-path="url(#cRGR)">
<line x1="327.1" y1="51.3" x2="327.1" y2="78.1" stroke="#e9e9e9" stroke-width="0.7"/>
<line x1="354.55" y1="51.3" x2="354.55" y2="78.1" stroke="#e9e9e9" stroke-width="0.7"/>
<line x1="382" y1="51.3" x2="382" y2="78.1" stroke="#e9e9e9" stroke-width="0.7"/>
<line x1="409.45" y1="51.3" x2="409.45" y2="78.1" stroke="#e9e9e9" stroke-width="0.7"/>
<line x1="436.9" y1="51.3" x2="436.9" y2="78.1" stroke="#e9e9e9" stroke-width="0.7"/>
<line x1="464.35" y1="51.3" x2="464.35" y2="78.1" stroke="#e9e9e9" stroke-width="0.7"/>
<path d="M326.94 78.1V72.06H328.55V78.1ZM328.55 78.1V74.21H330.15V78.1ZM330.15 78.1V74.74H332.3V78.1ZM332.3 78.1V68.84H333.91V78.1ZM333.91 78.1V60.8H334.98V78.1ZM334.98 78.1V53.83H336.8V78.1ZM336.8 78.1V62.94H338.19V78.1ZM338.19 78.1V67.77H339.8V78.1ZM339.8 78.1V73.13H340.87V78.1ZM340.87 78.1V76.35H343.02V78.1ZM343.02 78.1V77.1H345.16V78.1ZM345.16 78.1V76.35H347.84V78.1ZM347.84 78.1V77.1H349.99V78.1ZM349.99 78.1V72.06H351.6V78.1ZM351.6 78.1V75.82H353.74V78.1ZM353.74 78.1V77.1H358.03V78.1ZM358.03 78.1V71.53H360.17V78.1ZM360.17 78.1V75.82H362.32V78.1ZM362.32 78.1V77.1H365.53V78.1ZM365.53 78.1V75.28H367.68V78.1ZM367 78.1V74.74H369.14V78.1ZM367.68 78.1V73.89H369.82V78.1ZM369.14 78.1V73.46H372.36V78.1ZM369.82 78.1V73.13H371V78.1ZM372.36 78.1V74.21H374.5V78.1ZM374.5 78.1V75.82H376.11V78.1ZM376.11 78.1V69.92H377.72V78.1ZM377.72 78.1V63.48H379.33V78.1ZM379.33 78.1V69.92H380.94V78.1ZM380.94 78.1V70.45H383.08V78.1ZM383.08 78.1V72.06H384.69V78.1ZM384.69 78.1V73.67H387.37V78.1ZM387.37 78.1V66.7H388.98V78.1ZM388.98 78.1V66.16H390.59V78.1ZM390.59 78.1V64.55H392.73V78.1ZM392.73 78.1V68.31H394.34V78.1ZM394.34 78.1V71.53H395.95V78.1ZM395.95 78.1V66.7H397.55V78.1ZM397.55 78.1V61.87H399.16V78.1ZM399.16 78.1V69.38H400.77V78.1ZM400.77 78.1V69.92H402.38V78.1ZM402.38 78.1V70.99H403.99V78.1ZM403.99 78.1V69.38H405.81V78.1ZM405.81 78.1V73.13H407.74V78.1ZM407.74 78.1V72.06H409.35V78.1ZM409.35 78.1V70.45H410.96V78.1ZM410.96 78.1V69.38H412.56V78.1ZM412.56 78.1V75.82H414.71V78.1ZM414.71 78.1V74.96H416.32V78.1ZM416.32 78.1V77.43H418.46V78.1ZM418.46 78.1V75.82H420.6V78.1ZM420.6 78.1V73.46H422.21V78.1ZM421 78.1V73.67H423.14V78.1ZM422.21 78.1V77.1H425V78.1ZM423.14 78.1V76.35H426.36V78.1ZM426.36 78.1V75.82H428.5V78.1ZM428.5 78.1V76.67H431.72V78.1ZM431.72 78.1V77.1H434.94V78.1ZM434.94 78.1V76.35H436.55V78.1ZM436.55 78.1V74.74H438.15V78.1ZM438.15 78.1V77.1H441.91V78.1ZM441.91 78.1V73.89H444.05V78.1ZM444.05 78.1V74.74H446.73V78.1ZM446.73 78.1V75.6H448.87V78.1ZM448.87 78.1V76.67H451.02V78.1ZM451.02 78.1V75.82H453.16V78.1ZM453.16 78.1V77.1H455.31V78.1ZM455.31 78.1V77.43H457.45V78.1ZM457.45 78.1V76.67H459.6V78.1ZM459.6 78.1V77.1H461.74V78.1ZM461.74 78.1V76.67H464.96V78.1Z" fill="#000"/>
<polyline points="340.87,72.06 350.52,71.53 361.24,70.45 367,69.92 371,69.92 377.72,67.24 388.44,62.94 393.8,60.8 399.16,57.58 404.52,55.97 409.88,54.9 415.24,54.15 421,53.29 425,53.08 431.72,52.22 442.44,51.68 453.16,51.15" fill="none" stroke="#999" stroke-width="0.8"/>
<polyline points="313,77.43 325.87,77.1 334.44,75.82 339.8,74.53 350.52,73.13 361.24,71.53 367,70.45 371,70.24 377.72,69.92 383.08,69.6 388.44,69.92 399.16,70.99 409.88,72.38 420.6,74.53 421,74.74 425,75.28 426.36,75.6 431.72,76.35 442.44,77.1 453.16,77.75" fill="none" stroke="#3fcf3f" stroke-opacity="0.7" stroke-width="0.9"/>
</g>
<text x="315.05" y="55.4" class="m">-0.1</text>
<text x="476.35" y="55.4" class="m" text-anchor="end">1.1</text>
<rect x="313.45" y="51.3" width="164.5" height="26.8" fill="none" stroke="#3c3c3c" stroke-width="1.15"/>
<text x="307.1" y="67.2" class="b" text-anchor="end" textLength="9.3" lengthAdjust="spacingAndGlyphs" style="font-size:6.1px">GR</text>
<text x="486" y="56.26" class="s" style="font-size:4.65px">Minimum</text>
<text x="542.6" y="56.26" class="s" text-anchor="end" style="font-size:4.65px">0.000</text>
<text x="486" y="63.16" class="s" style="font-size:4.65px">Maximum</text>
<text x="542.6" y="63.16" class="s" text-anchor="end" style="font-size:4.65px">1.000</text>
<text x="486" y="70.06" class="s" style="font-size:4.65px">Mean</text>
<text x="542.6" y="70.06" class="s" text-anchor="end" style="font-size:4.65px">0.400</text>
<text x="486" y="76.96" class="s" style="font-size:4.65px">Standard Deviation</text>
<text x="542.6" y="76.96" class="s" text-anchor="end" style="font-size:4.65px">0.242</text>
<clipPath id="cRLLD"><rect x="313.45" y="85.4" width="164.5" height="27"/></clipPath>
<rect x="313.45" y="85.4" width="164.5" height="27" fill="#fff"/>
<g clip-path="url(#cRLLD)">
<line x1="327.1" y1="85.4" x2="327.1" y2="112.4" stroke="#e9e9e9" stroke-width="0.7"/>
<line x1="354.55" y1="85.4" x2="354.55" y2="112.4" stroke="#e9e9e9" stroke-width="0.7"/>
<line x1="382" y1="85.4" x2="382" y2="112.4" stroke="#e9e9e9" stroke-width="0.7"/>
<line x1="409.45" y1="85.4" x2="409.45" y2="112.4" stroke="#e9e9e9" stroke-width="0.7"/>
<line x1="436.9" y1="85.4" x2="436.9" y2="112.4" stroke="#e9e9e9" stroke-width="0.7"/>
<line x1="464.35" y1="85.4" x2="464.35" y2="112.4" stroke="#e9e9e9" stroke-width="0.7"/>
<path d="M326.94 112.4V112.1H329.08V112.4ZM329.08 112.4V111.35H332.3V112.4ZM332.3 112.4V110.82H334.44V112.4ZM334.44 112.4V109.74H336.05V112.4ZM336.05 112.4V109.21H338.19V112.4ZM338.19 112.4V107.06H339.8V112.4ZM339.8 112.4V103.31H341.41V112.4ZM341.41 112.4V102.77H343.55V112.4ZM343.55 112.4V104.38H345.16V112.4ZM345.16 112.4V105.99H346.77V112.4ZM346.77 112.4V107.06H348.38V112.4ZM348.38 112.4V108.46H349.99V112.4ZM349.99 112.4V110.82H351.6V112.4ZM351.6 112.4V109.96H353.74V112.4ZM353.74 112.4V110.82H355.35V112.4ZM355.35 112.4V109.53H356.96V112.4ZM356.96 112.4V110.6H358.56V112.4ZM358.56 112.4V109.21H360.17V112.4ZM360.17 112.4V109.53H363.39V112.4ZM363.39 112.4V104.92H365V112.4ZM365 112.4V100.63H366.6V112.4ZM366.6 112.4V101.7H368.21V112.4ZM367 112.4V102.24H368.07V112.4ZM368.07 112.4V88.08H369.68V112.4ZM368.21 112.4V87.75H369.61V112.4ZM369.61 112.4V102.24H371V112.4ZM369.68 112.4V100.63H371.29V112.4ZM371.29 112.4V105.99H372.9V112.4ZM372.9 112.4V110.28H373.97V112.4ZM373.97 112.4V107.06H375.58V112.4ZM375.58 112.4V105.99H377.72V112.4ZM377.72 112.4V110.6H379.33V112.4ZM379.33 112.4V108.46H382.01V112.4ZM382.01 112.4V109.21H384.15V112.4ZM384.15 112.4V110.82H385.76V112.4ZM385.76 112.4V111.35H388.44V112.4ZM388.44 112.4V110.82H392.73V112.4ZM392.73 112.4V111.35H395.95V112.4ZM395.95 112.4V108.13H398.09V112.4ZM398.09 112.4V108.46H400.23V112.4ZM400.23 112.4V109.74H403.45V112.4ZM403.45 112.4V110.28H406.67V112.4ZM406.67 112.4V109.74H410.96V112.4ZM410.96 112.4V111.67H412.03V112.4ZM412.03 112.4V108.13H414.17V112.4ZM414.17 112.4V109.74H416.32V112.4ZM416.32 112.4V109.53H418.46V112.4ZM418.46 112.4V111.35H420.6V112.4ZM420.6 112.4V111.89H422.21V112.4ZM421 112.4V110.82H422.07V112.4ZM422.07 112.4V108.46H423.68V112.4ZM422.21 112.4V108.46H423.82V112.4ZM423.68 112.4V111.03H426.36V112.4ZM423.82 112.4V111.67H425V112.4ZM426.36 112.4V109.53H429.04V112.4ZM429.04 112.4V111.89H436.01V112.4ZM436.01 112.4V110.28H438.15V112.4ZM438.15 112.4V108.89H439.76V112.4ZM439.76 112.4V110.6H440.83V112.4ZM440.83 112.4V112.1H444.59V112.4ZM444.59 112.4V110.28H448.87V112.4ZM448.87 112.4V112.1H451.02V112.4Z" fill="#000"/>
<polyline points="345.16,106.31 355.88,105.24 363.39,104.38 366.6,102.24 369.14,98.48 372.36,96.87 377.72,95.26 388.44,93.65 399.16,92.04 409.88,89.9 420.6,88.08 421,88.08 425,87.22 431.72,87.22 437.08,86.68 442.44,85.93" fill="none" stroke="#999" stroke-width="0.8"/>
<polyline points="313,112.43 326.94,112.1 334.44,110.82 345.16,109.74 355.88,108.67 366.6,107.6 367,107.06 371,107.06 377.72,106.53 388.44,107.06 399.16,108.13 409.88,109.53 420.6,110.82 421,111.03 425,111.35 431.72,111.89 442.44,112.43 453.16,112.75" fill="none" stroke="#3fcf3f" stroke-opacity="0.7" stroke-width="0.9"/>
</g>
<text x="315.05" y="89.5" class="m">-0.1</text>
<text x="476.35" y="89.5" class="m" text-anchor="end">1.1</text>
<rect x="313.45" y="85.4" width="164.5" height="27" fill="none" stroke="#3c3c3c" stroke-width="1.15"/>
<text x="307.1" y="101.3" class="b" text-anchor="end" textLength="11.2" lengthAdjust="spacingAndGlyphs" style="font-size:6.1px">LLD</text>
<text x="486" y="90.36" class="s" style="font-size:4.65px">Minimum</text>
<text x="542.6" y="90.36" class="s" text-anchor="end" style="font-size:4.65px">0.000</text>
<text x="486" y="97.26" class="s" style="font-size:4.65px">Maximum</text>
<text x="542.6" y="97.26" class="s" text-anchor="end" style="font-size:4.65px">1.000</text>
<text x="486" y="104.16" class="s" style="font-size:4.65px">Mean</text>
<text x="542.6" y="104.16" class="s" text-anchor="end" style="font-size:4.65px">0.365</text>
<text x="486" y="111.06" class="s" style="font-size:4.65px">Standard Deviation</text>
<text x="542.6" y="111.06" class="s" text-anchor="end" style="font-size:4.65px">0.220</text>
<clipPath id="cRLLS"><rect x="313.45" y="119.4" width="164.5" height="27.1"/></clipPath>
<rect x="313.45" y="119.4" width="164.5" height="27.1" fill="#fff"/>
<g clip-path="url(#cRLLS)">
<line x1="327.1" y1="119.4" x2="327.1" y2="146.5" stroke="#e9e9e9" stroke-width="0.7"/>
<line x1="354.55" y1="119.4" x2="354.55" y2="146.5" stroke="#e9e9e9" stroke-width="0.7"/>
<line x1="382" y1="119.4" x2="382" y2="146.5" stroke="#e9e9e9" stroke-width="0.7"/>
<line x1="409.45" y1="119.4" x2="409.45" y2="146.5" stroke="#e9e9e9" stroke-width="0.7"/>
<line x1="436.9" y1="119.4" x2="436.9" y2="146.5" stroke="#e9e9e9" stroke-width="0.7"/>
<line x1="464.35" y1="119.4" x2="464.35" y2="146.5" stroke="#e9e9e9" stroke-width="0.7"/>
<path d="M326.94 146.5V144.28H328.55V146.5ZM328.55 146.5V142.13H330.69V146.5ZM330.69 146.5V141.06H331.76V146.5ZM331.76 146.5V138.17H333.37V146.5ZM333.37 146.5V139.99H334.98V146.5ZM334.98 146.5V142.89H336.59V146.5ZM336.59 146.5V139.24H338.19V146.5ZM338.19 146.5V144.28H341.09V146.5ZM341.09 146.5V135.16H343.23V146.5ZM343.23 146.5V137.31H344.95V146.5ZM344.95 146.5V143.21H345.7V146.5ZM345.7 146.5V144.82H348.38V146.5ZM348.38 146.5V145.67H349.99V146.5ZM349.99 146.5V144.82H351.6V146.5ZM351.6 146.5V146.43H355.88V146.5ZM355.88 146.5V145.35H358.56V146.5ZM358.56 146.5V146.43H364.46V146.5ZM364.46 146.5V145.67H366.6V146.5ZM366.6 146.5V146.43H368.21V146.5ZM367 146.5V144.82H368.61V146.5ZM368.21 146.5V143.21H369.82V146.5ZM368.61 146.5V142.89H369.68V146.5ZM369.68 146.5V145.35H371.29V146.5ZM369.82 146.5V144.82H371V146.5ZM371.29 146.5V141.06H372.9V146.5ZM372.9 146.5V143.21H374.29V146.5ZM374.29 146.5V122.29H376.11V146.5ZM376.11 146.5V123.9H377.72V146.5ZM377.72 146.5V134.09H379.33V146.5ZM379.33 146.5V141.06H380.94V146.5ZM380.94 146.5V138.92H382.55V146.5ZM382.55 146.5V141.06H385.76V146.5ZM385.76 146.5V136.24H387.37V146.5ZM387.37 146.5V142.89H388.98V146.5ZM388.98 146.5V145.35H391.12V146.5ZM391.12 146.5V146.1H394.34V146.5ZM394.34 146.5V143.21H397.02V146.5ZM397.02 146.5V143.74H399.16V146.5ZM399.16 146.5V144.82H401.31V146.5ZM401.31 146.5V146.1H403.99V146.5ZM403.99 146.5V141.06H405.6V146.5ZM405.6 146.5V144.28H407.2V146.5ZM407.2 146.5V146.1H409.35V146.5ZM409.35 146.5V144.28H412.03V146.5ZM412.03 146.5V145.67H416.32V146.5ZM416.32 146.5V145.03H420.6V146.5ZM420.6 146.5V145.67H422.75V146.5ZM421 146.5V145.67H425.29V146.5ZM422.75 146.5V146.1H425V146.5ZM425.29 146.5V144.82H426.9V146.5ZM426.9 146.5V142.46H429.04V146.5ZM429.04 146.5V145.03H434.94V146.5ZM434.94 146.5V140.74H437.08V146.5ZM437.08 146.5V143.21H438.69V146.5ZM438.69 146.5V143.74H440.3V146.5ZM440.3 146.5V145.03H442.44V146.5ZM442.44 146.5V141.81H444.59V146.5ZM444.59 146.5V143.53H446.73V146.5ZM446.73 146.5V144.28H448.87V146.5ZM448.87 146.5V146.1H452.09V146.5ZM452.09 146.5V144.82H454.23V146.5ZM454.23 146.5V143.21H456.38V146.5ZM456.38 146.5V144.28H457.99V146.5ZM457.99 146.5V142.89H460.13V146.5ZM460.13 146.5V146.1H461.74V146.5Z" fill="#000"/>
<polyline points="345.16,140.74 355.88,140.31 367,139.24 371,139.45 373.43,138.38 377.72,134.63 383.08,131.41 388.44,129.8 399.16,127.65 409.88,126.37 421,125.51 425,125.29 431.72,124.44 442.44,122.29 453.16,120.68 458.52,119.93" fill="none" stroke="#999" stroke-width="0.8"/>
<polyline points="313,146.43 326.94,146.1 334.44,144.82 345.16,143.74 350.52,142.89 361.24,142.13 367,142.89 371,141.06 377.72,141.81 388.44,141.81 399.16,142.46 409.88,143.21 421,143.53 425,143.96 431.72,144.6 442.44,145.67 453.16,146.21 463.88,146.53" fill="none" stroke="#3fcf3f" stroke-opacity="0.7" stroke-width="0.9"/>
</g>
<text x="315.05" y="123.5" class="m">-0.1</text>
<text x="476.35" y="123.5" class="m" text-anchor="end">1.1</text>
<rect x="313.45" y="119.4" width="164.5" height="27.1" fill="none" stroke="#3c3c3c" stroke-width="1.15"/>
<text x="307.1" y="135.3" class="b" text-anchor="end" textLength="10.7" lengthAdjust="spacingAndGlyphs" style="font-size:6.1px">LLS</text>
<text x="486" y="124.36" class="s" style="font-size:4.65px">Minimum</text>
<text x="542.6" y="124.36" class="s" text-anchor="end" style="font-size:4.65px">0.000</text>
<text x="486" y="131.26" class="s" style="font-size:4.65px">Maximum</text>
<text x="542.6" y="131.26" class="s" text-anchor="end" style="font-size:4.65px">1.000</text>
<text x="486" y="138.16" class="s" style="font-size:4.65px">Mean</text>
<text x="542.6" y="138.16" class="s" text-anchor="end" style="font-size:4.65px">0.428</text>
<text x="486" y="145.06" class="s" style="font-size:4.65px">Standard Deviation</text>
<text x="542.6" y="145.06" class="s" text-anchor="end" style="font-size:4.65px">0.273</text>
<clipPath id="cRNPHI"><rect x="313.45" y="153.5" width="164.5" height="26.9"/></clipPath>
<rect x="313.45" y="153.5" width="164.5" height="26.9" fill="#fff"/>
<g clip-path="url(#cRNPHI)">
<line x1="327.1" y1="153.5" x2="327.1" y2="180.4" stroke="#e9e9e9" stroke-width="0.7"/>
<line x1="354.55" y1="153.5" x2="354.55" y2="180.4" stroke="#e9e9e9" stroke-width="0.7"/>
<line x1="382" y1="153.5" x2="382" y2="180.4" stroke="#e9e9e9" stroke-width="0.7"/>
<line x1="409.45" y1="153.5" x2="409.45" y2="180.4" stroke="#e9e9e9" stroke-width="0.7"/>
<line x1="436.9" y1="153.5" x2="436.9" y2="180.4" stroke="#e9e9e9" stroke-width="0.7"/>
<line x1="464.35" y1="153.5" x2="464.35" y2="180.4" stroke="#e9e9e9" stroke-width="0.7"/>
<path d="M326.94 180.4V180.35H329.08V180.4ZM329.08 180.4V180.03H331.23V180.4ZM331.23 180.4V180.35H333.37V180.4ZM333.37 180.4V176.38H335.3V180.4ZM335.3 180.4V164.26H336.59V180.4ZM336.59 180.4V159.44H338.19V180.4ZM338.19 180.4V156.75H339.8V180.4ZM339.8 180.4V176.06H341.09V180.4ZM341.09 180.4V176.06H343.55V180.4ZM343.55 180.4V179.28H345.16V180.4ZM345.16 180.4V180.67H351.06V180.4ZM351.06 180.4V177.89H352.67V180.4ZM352.67 180.4V176.81H354.28V180.4ZM354.28 180.4V177.13H355.88V180.4ZM355.88 180.4V178.53H356.96V180.4ZM356.96 180.4V180.35H359.1V180.4ZM359.1 180.4V179.82H361.24V180.4ZM361.24 180.4V180.67H364.46V180.4ZM364.46 180.4V179.82H366.6V180.4ZM366.6 180.4V180.67H371V180.4ZM367 180.4V180.35H372.36V180.4ZM372.36 180.4V177.67H374.5V180.4ZM374.5 180.4V178.53H377.72V180.4ZM377.72 180.4V178.21H380.94V180.4ZM380.94 180.4V178.74H383.08V180.4ZM383.08 180.4V177.67H385.23V180.4ZM385.23 180.4V178.74H388.44V180.4ZM388.44 180.4V177.46H391.66V180.4ZM391.66 180.4V178.74H393.8V180.4ZM393.8 180.4V176.06H396.48V180.4ZM396.48 180.4V177.13H399.16V180.4ZM399.16 180.4V176.6H402.38V180.4ZM402.38 180.4V177.13H405.6V180.4ZM405.6 180.4V176.38H410.42V180.4ZM410.42 180.4V168.55H412.03V180.4ZM412.03 180.4V176.06H415.24V180.4ZM415.24 180.4V172.31H416.85V180.4ZM416.85 180.4V173.6H418.46V180.4ZM418.46 180.4V176.06H420.6V180.4ZM420.6 180.4V175.53H422.21V180.4ZM421 180.4V175.74H422.61V180.4ZM422.21 180.4V174.45H423.82V180.4ZM422.61 180.4V174.99H424.22V180.4ZM423.82 180.4V176.06H425V180.4ZM424.22 180.4V177.13H425.82V180.4ZM425.82 180.4V178.21H430.11V180.4ZM430.11 180.4V176.06H432.26V180.4ZM432.26 180.4V178.21H436.01V180.4ZM436.01 180.4V179.6H437.62V180.4ZM437.62 180.4V180.35H439.23V180.4ZM439.23 180.4V179.28H442.44V180.4ZM442.44 180.4V177.89H443.51V180.4ZM443.51 180.4V176.06H445.66V180.4ZM445.66 180.4V177.46H448.34V180.4ZM448.34 180.4V173.38H449.95V180.4ZM449.95 180.4V170.7H451.88V180.4ZM451.88 180.4V173.92H453.16V180.4ZM453.16 180.4V176.06H454.77V180.4ZM454.77 180.4V169.3H456.91V180.4ZM456.91 180.4V177.13H459.6V180.4ZM459.6 180.4V178.74H461.74V180.4ZM461.74 180.4V177.13H463.35V180.4ZM463.35 180.4V176.06H464.96V180.4Z" fill="#000"/>
<polyline points="340.87,174.45 350.52,173.92 361.24,172.84 367,172.84 371,172.31 377.72,171.77 388.44,170.38 399.16,168.55 409.88,166.41 420.6,163.19 421,163.19 425,161.37 431.72,161.04 442.44,158.9 453.16,156.22 458.52,154.93" fill="none" stroke="#999" stroke-width="0.8"/>
<polyline points="313,180.67 323.72,180.35 334.44,179.82 345.16,178.74 355.88,177.67 366.6,177.13 367,177.46 371,177.13 377.72,176.81 388.44,176.38 399.16,176.06 409.88,176.06 420.6,176.06 421,177.13 425,176.38 431.72,177.89 437.08,178.53 442.44,178.74 453.16,179.28 463.88,179.6 469.24,179.82 479,180.03" fill="none" stroke="#3fcf3f" stroke-opacity="0.7" stroke-width="0.9"/>
</g>
<text x="315.05" y="157.6" class="m">-0.1</text>
<text x="476.35" y="157.6" class="m" text-anchor="end">1.1</text>
<rect x="313.45" y="153.5" width="164.5" height="26.9" fill="none" stroke="#3c3c3c" stroke-width="1.15"/>
<text x="307.1" y="169.4" class="b" text-anchor="end" textLength="13.4" lengthAdjust="spacingAndGlyphs" style="font-size:6.1px">NPHI</text>
<text x="486" y="158.46" class="s" style="font-size:4.65px">Minimum</text>
<text x="542.6" y="158.46" class="s" text-anchor="end" style="font-size:4.65px">0.000</text>
<text x="486" y="165.36" class="s" style="font-size:4.65px">Maximum</text>
<text x="542.6" y="165.36" class="s" text-anchor="end" style="font-size:4.65px">1.000</text>
<text x="486" y="172.26" class="s" style="font-size:4.65px">Mean</text>
<text x="542.6" y="172.26" class="s" text-anchor="end" style="font-size:4.65px">0.516</text>
<text x="486" y="179.16" class="s" style="font-size:4.65px">Standard Deviation</text>
<text x="542.6" y="179.16" class="s" text-anchor="end" style="font-size:4.65px">0.319</text>
<clipPath id="cRRHOB"><rect x="313.45" y="187.9" width="164.5" height="27.4"/></clipPath>
<rect x="313.45" y="187.9" width="164.5" height="27.4" fill="#fff"/>
<g clip-path="url(#cRRHOB)">
<line x1="327.1" y1="187.9" x2="327.1" y2="215.3" stroke="#e9e9e9" stroke-width="0.7"/>
<line x1="354.55" y1="187.9" x2="354.55" y2="215.3" stroke="#e9e9e9" stroke-width="0.7"/>
<line x1="382" y1="187.9" x2="382" y2="215.3" stroke="#e9e9e9" stroke-width="0.7"/>
<line x1="409.45" y1="187.9" x2="409.45" y2="215.3" stroke="#e9e9e9" stroke-width="0.7"/>
<line x1="436.9" y1="187.9" x2="436.9" y2="215.3" stroke="#e9e9e9" stroke-width="0.7"/>
<line x1="464.35" y1="187.9" x2="464.35" y2="215.3" stroke="#e9e9e9" stroke-width="0.7"/>
<path d="M362.32 215.3V213.28H364.46V215.3ZM364.46 215.3V212.21H366.6V215.3ZM366.6 215.3V212.53H371V215.3ZM367 215.3V212.21H371.29V215.3ZM371.29 215.3V214.35H372.9V215.3ZM372.9 215.3V211.67H374.5V215.3ZM374.5 215.3V211.13H377.72V215.3ZM377.72 215.3V207.38H380.94V215.3ZM380.94 215.3V206.09H383.08V215.3ZM383.08 215.3V209.53H384.69V215.3ZM384.69 215.3V210.6H387.37V215.3ZM387.37 215.3V210.06H391.66V215.3ZM391.66 215.3V208.99H392.73V215.3ZM392.73 215.3V205.24H394.34V215.3ZM394.34 215.3V208.99H397.02V215.3ZM397.02 215.3V208.45H399.16V215.3ZM399.16 215.3V204.7H401.31V215.3ZM401.31 215.3V206.84H403.99V215.3ZM403.99 215.3V205.77H405.6V215.3ZM405.6 215.3V203.63H407.74V215.3ZM407.74 215.3V206.31H409.88V215.3ZM409.88 215.3V205.02H412.03V215.3ZM412.03 215.3V208.99H414.17V215.3ZM414.17 215.3V209.74H417.39V215.3ZM417.39 215.3V211.89H419.53V215.3ZM419.53 215.3V210.81H421.14V215.3ZM421 215.3V210.06H423.14V215.3ZM421.14 215.3V209.74H422.75V215.3ZM422.75 215.3V211.46H425V215.3ZM423.14 215.3V212.74H424.75V215.3ZM424.75 215.3V211.67H426.36V215.3ZM426.36 215.3V212.74H427.97V215.3ZM427.97 215.3V213.6H429.58V215.3ZM429.58 215.3V214.67H431.18V215.3ZM452.09 215.3V214.35H453.7V215.3ZM455.09 215.3V210.06H456.38V215.3ZM456.38 215.3V208.99H457.99V215.3ZM457.99 215.3V207.38H459.6V215.3ZM459.6 215.3V190.75H461.74V215.3ZM461.74 215.3V197.73H463.35V215.3ZM463.35 215.3V210.06H464.96V215.3Z" fill="#000"/>
<polyline points="388.44,210.06 393.8,206.84 399.16,205.77 404.52,203.63 409.88,200.41 415.24,198.26 420.6,196.65 421,197.19 425,195.04 426.36,196.12 431.72,195.37 442.44,194.72 453.16,193.97 457.45,192.9 459.6,191.29 461.74,189.15" fill="none" stroke="#999" stroke-width="0.8"/>
<polyline points="347.31,214.35 355.88,214.03 362.32,213.6 367,212.53 371,212.74 377.72,211.67 388.44,210.38 399.16,209.31 409.88,208.45 415.24,208.24 421,208.99 425,208.99 431.72,210.06 442.44,211.13 453.16,212.21 455.31,212.74 463.88,213.28 479,213.82" fill="none" stroke="#3fcf3f" stroke-opacity="0.7" stroke-width="0.9"/>
</g>
<text x="315.05" y="192" class="m">-0.1</text>
<text x="476.35" y="192" class="m" text-anchor="end">1.1</text>
<rect x="313.45" y="187.9" width="164.5" height="27.4" fill="none" stroke="#3c3c3c" stroke-width="1.15"/>
<text x="307.1" y="203.8" class="b" text-anchor="end" textLength="16.7" lengthAdjust="spacingAndGlyphs" style="font-size:6.1px">RHOB</text>
<text x="486" y="192.86" class="s" style="font-size:4.65px">Minimum</text>
<text x="542.6" y="192.86" class="s" text-anchor="end" style="font-size:4.65px">0.000</text>
<text x="486" y="199.76" class="s" style="font-size:4.65px">Maximum</text>
<text x="542.6" y="199.76" class="s" text-anchor="end" style="font-size:4.65px">1.000</text>
<text x="486" y="206.66" class="s" style="font-size:4.65px">Mean</text>
<text x="542.6" y="206.66" class="s" text-anchor="end" style="font-size:4.65px">0.630</text>
<text x="486" y="213.56" class="s" style="font-size:4.65px">Standard Deviation</text>
<text x="542.6" y="213.56" class="s" text-anchor="end" style="font-size:4.65px">0.225</text>
<clipPath id="cRLLDO"><rect x="313.45" y="235.3" width="164.5" height="28"/></clipPath>
<rect x="313.45" y="235.3" width="164.5" height="28" fill="#fff"/>
<g clip-path="url(#cRLLDO)">
<line x1="327.1" y1="235.3" x2="327.1" y2="263.3" stroke="#e9e9e9" stroke-width="0.7"/>
<line x1="354.55" y1="235.3" x2="354.55" y2="263.3" stroke="#e9e9e9" stroke-width="0.7"/>
<line x1="382" y1="235.3" x2="382" y2="263.3" stroke="#e9e9e9" stroke-width="0.7"/>
<line x1="409.45" y1="235.3" x2="409.45" y2="263.3" stroke="#e9e9e9" stroke-width="0.7"/>
<line x1="436.9" y1="235.3" x2="436.9" y2="263.3" stroke="#e9e9e9" stroke-width="0.7"/>
<line x1="464.35" y1="235.3" x2="464.35" y2="263.3" stroke="#e9e9e9" stroke-width="0.7"/>
<path d="M326.94 263.3V262.1H330.15V263.3ZM330.15 263.3V261.67H333.37V263.3ZM333.37 263.3V258.13H334.98V263.3ZM334.98 263.3V254.92H336.8V263.3ZM336.8 263.3V259.21H337.87V263.3ZM337.87 263.3V259.96H339.8V263.3ZM339.8 263.3V260.6H341.73V263.3ZM341.73 263.3V258.13H343.55V263.3ZM343.55 263.3V257.81H344.95V263.3ZM344.95 263.3V251.38H346.77V263.3ZM346.77 263.3V255.99H348.38V263.3ZM348.38 263.3V262.1H349.99V263.3ZM349.99 263.3V259.74H351.6V263.3ZM351.6 263.3V262.43H355.88V263.3ZM355.88 263.3V262.1H361.24V263.3ZM361.24 263.3V262.43H366.07V263.3ZM366.07 263.3V261.35H367.68V263.3ZM367 263.3V260.82H368.61V263.3ZM367.68 263.3V262.43H371V263.3ZM368.61 263.3V262.1H371.29V263.3ZM371.29 263.3V259.74H373.43V263.3ZM373.43 263.3V258.13H376.11V263.3ZM376.11 263.3V253.31H377.72V263.3ZM377.72 263.3V246.34H379.01V263.3ZM379.01 263.3V238.83H380.94V263.3ZM380.94 263.3V250.09H382.55V263.3ZM382.55 263.3V254.92H383.62V263.3ZM383.62 263.3V258.67H385.76V263.3ZM385.76 263.3V260.28H387.91V263.3ZM387.91 263.3V262.1H389.51V263.3ZM389.51 263.3V259.74H391.12V263.3ZM391.12 263.3V258.46H392.73V263.3ZM392.73 263.3V261.35H394.87V263.3ZM394.87 263.3V258.89H397.02V263.3ZM397.02 263.3V256.74H399.16V263.3ZM399.16 263.3V260.28H401.31V263.3ZM401.31 263.3V261.35H403.99V263.3ZM403.99 263.3V262.1H407.74V263.3ZM407.74 263.3V261.35H409.88V263.3ZM409.88 263.3V260.28H412.03V263.3ZM412.03 263.3V259.74H414.17V263.3ZM414.17 263.3V257.06H415.78V263.3ZM415.78 263.3V258.46H417.39V263.3ZM417.39 263.3V261.35H420.6V263.3ZM420.6 263.3V260.28H425V263.3ZM421 263.3V260.82H423.14V263.3ZM423.14 263.3V261.67H427.43V263.3ZM427.43 263.3V260.82H429.04V263.3ZM429.04 263.3V259.53H431.72V263.3ZM431.72 263.3V260.6H433.33V263.3ZM433.33 263.3V261.35H436.55V263.3ZM436.55 263.3V260.28H438.69V263.3ZM438.69 263.3V262.1H440.3V263.3ZM456.38 263.3V262.43H457.99V263.3ZM463.35 263.3V262.43H464.96V263.3Z" fill="#000"/>
<polyline points="348.38,256.53 355.88,256.31 367,255.45 371,255.45 375.58,253.84 379.87,250.09 383.08,246.87 388.44,244.73 399.16,242.04 409.88,240.44 421,238.29 425,238.29 426.36,237.22 431.72,236.36 437.08,235.61" fill="none" stroke="#999" stroke-width="0.8"/>
<polyline points="313,262.43 326.94,262.1 334.44,261.35 345.16,260.28 350.52,259.53 361.24,258.46 367,258.46 371,257.81 377.72,257.6 388.44,257.81 399.16,258.89 409.88,259.96 421,260.82 425,260.82 431.72,261.67 442.44,262.43 453.16,262.75" fill="none" stroke="#3fcf3f" stroke-opacity="0.7" stroke-width="0.9"/>
</g>
<text x="315.05" y="239.4" class="m">-0.1</text>
<text x="476.35" y="239.4" class="m" text-anchor="end">1.1</text>
<rect x="313.45" y="235.3" width="164.5" height="28" fill="none" stroke="#3c3c3c" stroke-width="1.15"/>
<text x="307.1" y="251.2" class="b" text-anchor="end" textLength="15.3" lengthAdjust="spacingAndGlyphs" style="font-size:6.1px">LLDO</text>
<text x="486" y="240.26" class="s" style="font-size:4.65px">Minimum</text>
<text x="542.6" y="240.26" class="s" text-anchor="end" style="font-size:4.65px">0.000</text>
<text x="486" y="247.16" class="s" style="font-size:4.65px">Maximum</text>
<text x="542.6" y="247.16" class="s" text-anchor="end" style="font-size:4.65px">1.000</text>
<text x="486" y="254.06" class="s" style="font-size:4.65px">Mean</text>
<text x="542.6" y="254.06" class="s" text-anchor="end" style="font-size:4.65px">0.392</text>
<text x="486" y="260.96" class="s" style="font-size:4.65px">Standard Deviation</text>
<text x="542.6" y="260.96" class="s" text-anchor="end" style="font-size:4.65px">0.217</text>
<text x="134.8" y="283.7" class="c">(<tspan font-weight="bold">a</tspan>)</text>
<text x="409.8" y="283.7" class="c">(<tspan font-weight="bold">b</tspan>)</text>
</svg>
</body></html>
